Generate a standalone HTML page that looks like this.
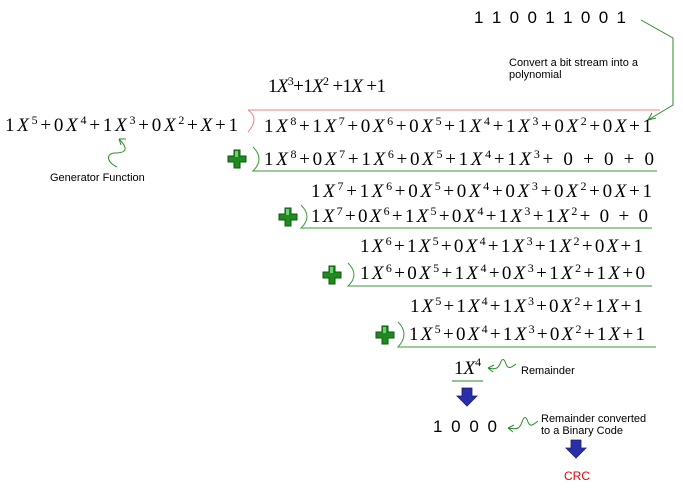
<!DOCTYPE html>
<html><head><meta charset="utf-8"><style>
html,body{margin:0;padding:0;background:#fff;}
svg{display:block}
.m{font-family:"Liberation Serif",serif;font-size:19px;fill:#000}
.s{font-family:"Liberation Sans",sans-serif;font-size:11px;fill:#000}
.b{font-family:"Liberation Sans",sans-serif;font-size:17px;fill:#000}
</style></head><body>
<svg width="683" height="490" viewBox="0 0 683 490" xmlns="http://www.w3.org/2000/svg">
<defs>
<g id="plus">
<path d="M-3,-9 h6 v6 h6 v6 h-6 v6 h-6 v-6 h-6 v-6 h6 z" fill="#1f8a1f" stroke="#0d5a0d" stroke-width="1"/>
<path d="M-2,-8 h3 v6 h-3 z" fill="#6fd06f"/>
</g>
<g id="barrow">
<path d="M-5,-10 h10 v8 h5 l-10,10 l-10,-10 h5 z" fill="#2a2ea8" stroke="#1a1d70" stroke-width="0.8"/>
</g>
</defs>

<text class="b" x="474" y="23" textLength="152" lengthAdjust="spacing">1 1 0 0 1 1 0 0 1</text>
<polyline points="641,20 673,38 673,105 648,120" fill="none" stroke="#2a8a2a" stroke-width="1"/>
<path d="M648,120 l4,-7 M648,120 l8,-2" stroke="#2a8a2a" stroke-width="1"/>
<text class="s" x="509" y="66">Convert a bit stream into a</text>
<text class="s" x="509" y="78">polynomial</text>

<text class="m" x="268" y="92" textLength="118" lengthAdjust="spacing">1<tspan font-style="italic">X</tspan><tspan dy="-7" font-size="12">3</tspan><tspan dy="7">+1</tspan><tspan font-style="italic">X</tspan><tspan dy="-7" font-size="12">2</tspan><tspan dy="7"> +1</tspan><tspan font-style="italic">X</tspan><tspan>   +1</tspan></text>

<text class="m" x="5" y="131" textLength="233" lengthAdjust="spacing">1<tspan font-style="italic">X</tspan><tspan dy="-7" font-size="12">5</tspan><tspan dy="7">+0</tspan><tspan font-style="italic">X</tspan><tspan dy="-7" font-size="12">4</tspan><tspan dy="7">+1</tspan><tspan font-style="italic">X</tspan><tspan dy="-7" font-size="12">3</tspan><tspan dy="7">+0</tspan><tspan font-style="italic">X</tspan><tspan dy="-7" font-size="12">2</tspan><tspan dy="7">+</tspan><tspan font-style="italic">X</tspan><tspan>+1</tspan></text>
<path d="M117,167 c-12,-6 -10,-14 -2,-14 c8,0 16,-2 4,-14" fill="none" stroke="#2a8a2a" stroke-width="1"/>
<path d="M119,139 l7,0 M119,139 l2,6" fill="none" stroke="#2a8a2a" stroke-width="1"/>
<text class="s" x="50" y="181">Generator Function</text>

<path d="M248,110 L660,110 M248,110 q12,8 0,22" fill="none" stroke="#f08080" stroke-width="1"/>
<text class="m" x="264" y="132" textLength="388" lengthAdjust="spacing">1<tspan font-style="italic">X</tspan><tspan dy="-7" font-size="12">8</tspan><tspan dy="7">+1</tspan><tspan font-style="italic">X</tspan><tspan dy="-7" font-size="12">7</tspan><tspan dy="7">+0</tspan><tspan font-style="italic">X</tspan><tspan dy="-7" font-size="12">6</tspan><tspan dy="7">+0</tspan><tspan font-style="italic">X</tspan><tspan dy="-7" font-size="12">5</tspan><tspan dy="7">+1</tspan><tspan font-style="italic">X</tspan><tspan dy="-7" font-size="12">4</tspan><tspan dy="7">+1</tspan><tspan font-style="italic">X</tspan><tspan dy="-7" font-size="12">3</tspan><tspan dy="7">+0</tspan><tspan font-style="italic">X</tspan><tspan dy="-7" font-size="12">2</tspan><tspan dy="7">+0</tspan><tspan font-style="italic">X</tspan><tspan>+1</tspan></text>

<use href="#plus" x="237" y="159"/>
<path d="M253,147 q12,12 0,24 L657,171" fill="none" stroke="#3a9a3a" stroke-width="1"/>
<text class="m" x="264" y="165" textLength="390" lengthAdjust="spacing">1<tspan font-style="italic">X</tspan><tspan dy="-7" font-size="12">8</tspan><tspan dy="7">+0</tspan><tspan font-style="italic">X</tspan><tspan dy="-7" font-size="12">7</tspan><tspan dy="7">+1</tspan><tspan font-style="italic">X</tspan><tspan dy="-7" font-size="12">6</tspan><tspan dy="7">+0</tspan><tspan font-style="italic">X</tspan><tspan dy="-7" font-size="12">5</tspan><tspan dy="7">+1</tspan><tspan font-style="italic">X</tspan><tspan dy="-7" font-size="12">4</tspan><tspan dy="7">+1</tspan><tspan font-style="italic">X</tspan><tspan dy="-7" font-size="12">3</tspan><tspan dy="7">+ 0  + 0  + 0</tspan></text>

<text class="m" x="311" y="197" textLength="341" lengthAdjust="spacing">1<tspan font-style="italic">X</tspan><tspan dy="-7" font-size="12">7</tspan><tspan dy="7">+1</tspan><tspan font-style="italic">X</tspan><tspan dy="-7" font-size="12">6</tspan><tspan dy="7">+0</tspan><tspan font-style="italic">X</tspan><tspan dy="-7" font-size="12">5</tspan><tspan dy="7">+0</tspan><tspan font-style="italic">X</tspan><tspan dy="-7" font-size="12">4</tspan><tspan dy="7">+0</tspan><tspan font-style="italic">X</tspan><tspan dy="-7" font-size="12">3</tspan><tspan dy="7">+0</tspan><tspan font-style="italic">X</tspan><tspan dy="-7" font-size="12">2</tspan><tspan dy="7">+0</tspan><tspan font-style="italic">X</tspan><tspan>+1</tspan></text>

<use href="#plus" x="288" y="217"/>
<path d="M301,205 q12,12 0,23 L652,228" fill="none" stroke="#3a9a3a" stroke-width="1"/>
<text class="m" x="311" y="222" textLength="337" lengthAdjust="spacing">1<tspan font-style="italic">X</tspan><tspan dy="-7" font-size="12">7</tspan><tspan dy="7">+0</tspan><tspan font-style="italic">X</tspan><tspan dy="-7" font-size="12">6</tspan><tspan dy="7">+1</tspan><tspan font-style="italic">X</tspan><tspan dy="-7" font-size="12">5</tspan><tspan dy="7">+0</tspan><tspan font-style="italic">X</tspan><tspan dy="-7" font-size="12">4</tspan><tspan dy="7">+1</tspan><tspan font-style="italic">X</tspan><tspan dy="-7" font-size="12">3</tspan><tspan dy="7">+1</tspan><tspan font-style="italic">X</tspan><tspan dy="-7" font-size="12">2</tspan><tspan dy="7">+ 0 + 0</tspan></text>

<text class="m" x="360" y="252" textLength="283" lengthAdjust="spacing">1<tspan font-style="italic">X</tspan><tspan dy="-7" font-size="12">6</tspan><tspan dy="7">+1</tspan><tspan font-style="italic">X</tspan><tspan dy="-7" font-size="12">5</tspan><tspan dy="7">+0</tspan><tspan font-style="italic">X</tspan><tspan dy="-7" font-size="12">4</tspan><tspan dy="7">+1</tspan><tspan font-style="italic">X</tspan><tspan dy="-7" font-size="12">3</tspan><tspan dy="7">+1</tspan><tspan font-style="italic">X</tspan><tspan dy="-7" font-size="12">2</tspan><tspan dy="7">+0</tspan><tspan font-style="italic">X</tspan><tspan>+1</tspan></text>

<use href="#plus" x="332" y="275"/>
<path d="M348,263 q12,12 0,23 L652,286" fill="none" stroke="#3a9a3a" stroke-width="1"/>
<text class="m" x="360" y="279" textLength="285" lengthAdjust="spacing">1<tspan font-style="italic">X</tspan><tspan dy="-7" font-size="12">6</tspan><tspan dy="7">+0</tspan><tspan font-style="italic">X</tspan><tspan dy="-7" font-size="12">5</tspan><tspan dy="7">+1</tspan><tspan font-style="italic">X</tspan><tspan dy="-7" font-size="12">4</tspan><tspan dy="7">+0</tspan><tspan font-style="italic">X</tspan><tspan dy="-7" font-size="12">3</tspan><tspan dy="7">+1</tspan><tspan font-style="italic">X</tspan><tspan dy="-7" font-size="12">2</tspan><tspan dy="7">+1</tspan><tspan font-style="italic">X</tspan><tspan>+0</tspan></text>

<text class="m" x="410" y="312" textLength="233" lengthAdjust="spacing">1<tspan font-style="italic">X</tspan><tspan dy="-7" font-size="12">5</tspan><tspan dy="7">+1</tspan><tspan font-style="italic">X</tspan><tspan dy="-7" font-size="12">4</tspan><tspan dy="7">+1</tspan><tspan font-style="italic">X</tspan><tspan dy="-7" font-size="12">3</tspan><tspan dy="7">+0</tspan><tspan font-style="italic">X</tspan><tspan dy="-7" font-size="12">2</tspan><tspan dy="7">+1</tspan><tspan font-style="italic">X</tspan><tspan>+1</tspan></text>

<use href="#plus" x="385" y="335"/>
<path d="M398,322 q12,12 0,25 L656,347" fill="none" stroke="#3a9a3a" stroke-width="1"/>
<text class="m" x="409" y="340" textLength="236" lengthAdjust="spacing">1<tspan font-style="italic">X</tspan><tspan dy="-7" font-size="12">5</tspan><tspan dy="7">+0</tspan><tspan font-style="italic">X</tspan><tspan dy="-7" font-size="12">4</tspan><tspan dy="7">+1</tspan><tspan font-style="italic">X</tspan><tspan dy="-7" font-size="12">3</tspan><tspan dy="7">+0</tspan><tspan font-style="italic">X</tspan><tspan dy="-7" font-size="12">2</tspan><tspan dy="7">+1</tspan><tspan font-style="italic">X</tspan><tspan>+1</tspan></text>

<text class="m" x="454" y="374">1<tspan font-style="italic">X</tspan><tspan dy="-8" font-size="12">4</tspan></text>
<line x1="452" y1="381" x2="483" y2="381" stroke="#2a8a2a" stroke-width="1"/>
<path d="M488,368 l6,-3 M488,368 l5,4 M488,368 c8,2 10,0 12,-4 c2,-6 4,-6 6,0 c2,6 6,3 10,0" fill="none" stroke="#2a8a2a" stroke-width="1"/>
<text class="s" x="521" y="374">Remainder</text>
<use href="#barrow" x="467" y="398"/>

<text class="b" x="433" y="432" textLength="64" lengthAdjust="spacing">1 0 0 0</text>
<path d="M508,428 l6,-3 M508,428 l5,4 M508,428 c10,2 12,0 14,-6 c2,-6 4,-6 6,0 c2,6 6,2 10,-1" fill="none" stroke="#2a8a2a" stroke-width="1"/>
<text class="s" x="541" y="422">Remainder converted</text>
<text class="s" x="541" y="434">to a Binary Code</text>
<use href="#barrow" x="576" y="450"/>
<text x="564" y="480" font-family="Liberation Sans, sans-serif" font-size="12" fill="#e00">CRC</text>
</svg>
</body></html>
